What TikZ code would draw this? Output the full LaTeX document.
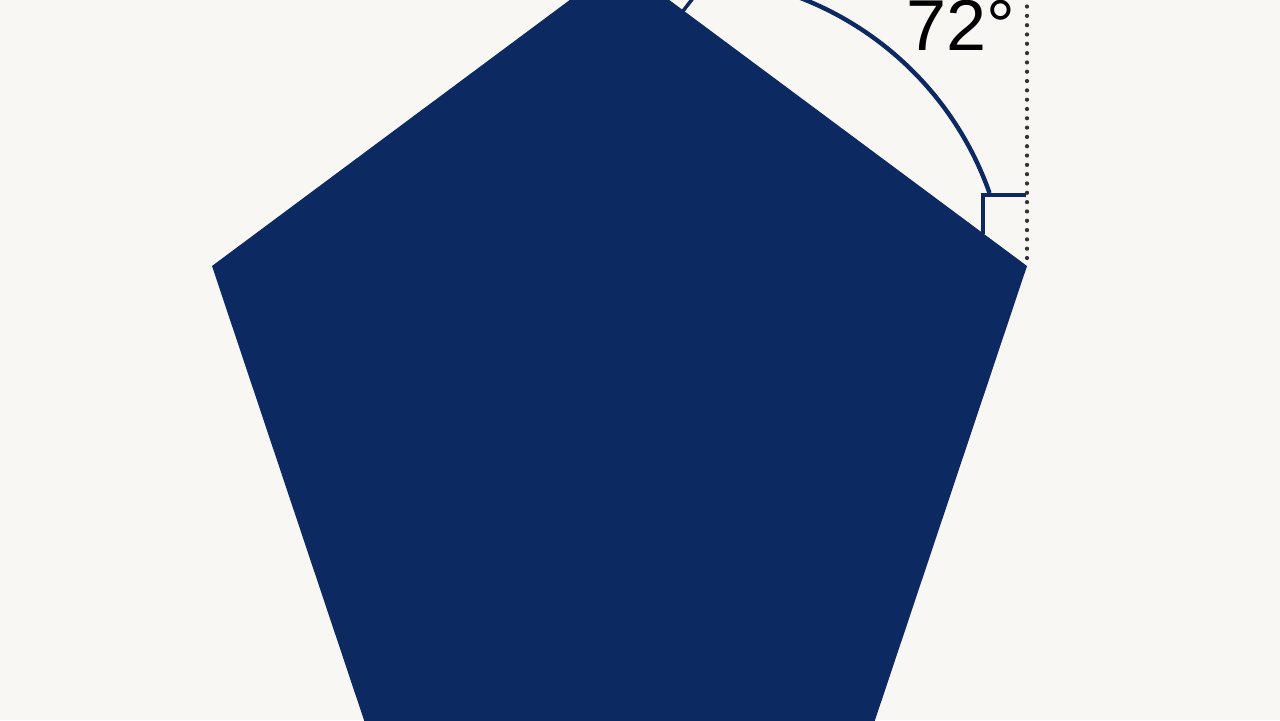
\documentclass[tikz,border=0pt]{standalone}
\usepackage{fontspec}
\setmainfont{Liberation Sans}
\definecolor{navy}{RGB}{12,41,97}
\definecolor{paper}{RGB}{248,247,243}
\begin{document}
\begin{tikzpicture}[x=0.1mm,y=0.1mm]
\def\pentagon{(619.5,757) -- (1027,454) -- (863,-36) -- (376,-36) -- (212,454) -- cycle}
\def\frame{(0,0) rectangle (1280,720)}

\fill[paper] \frame;
\useasboundingbox \frame;
\clip \frame;

\coordinate (R) at (1027,454);
\coordinate (O) at (683,419);

\draw[navy, line width=1pt] (676,700) -- (697,727);
\fill[navy] \pentagon;

% angle arc and right-angle mark
\draw[navy, line width=1.25pt] (O) ++(19.4:32.5mm) arc (19.4:80:32.5mm);
\draw[navy, line width=1pt] (983,486) -- (983,525) -- (1026,525);

\draw[black!80, line width=1.2pt, line cap=round, dash pattern=on 0pt off 2.65pt]
	(R) ++(0,8) -- ++(0,280);
\node[anchor=base west, inner sep=0pt, font=\fontsize{20.5}{24}\selectfont] (ang) at (906,670) {72°};
\end{tikzpicture}
\end{document}
